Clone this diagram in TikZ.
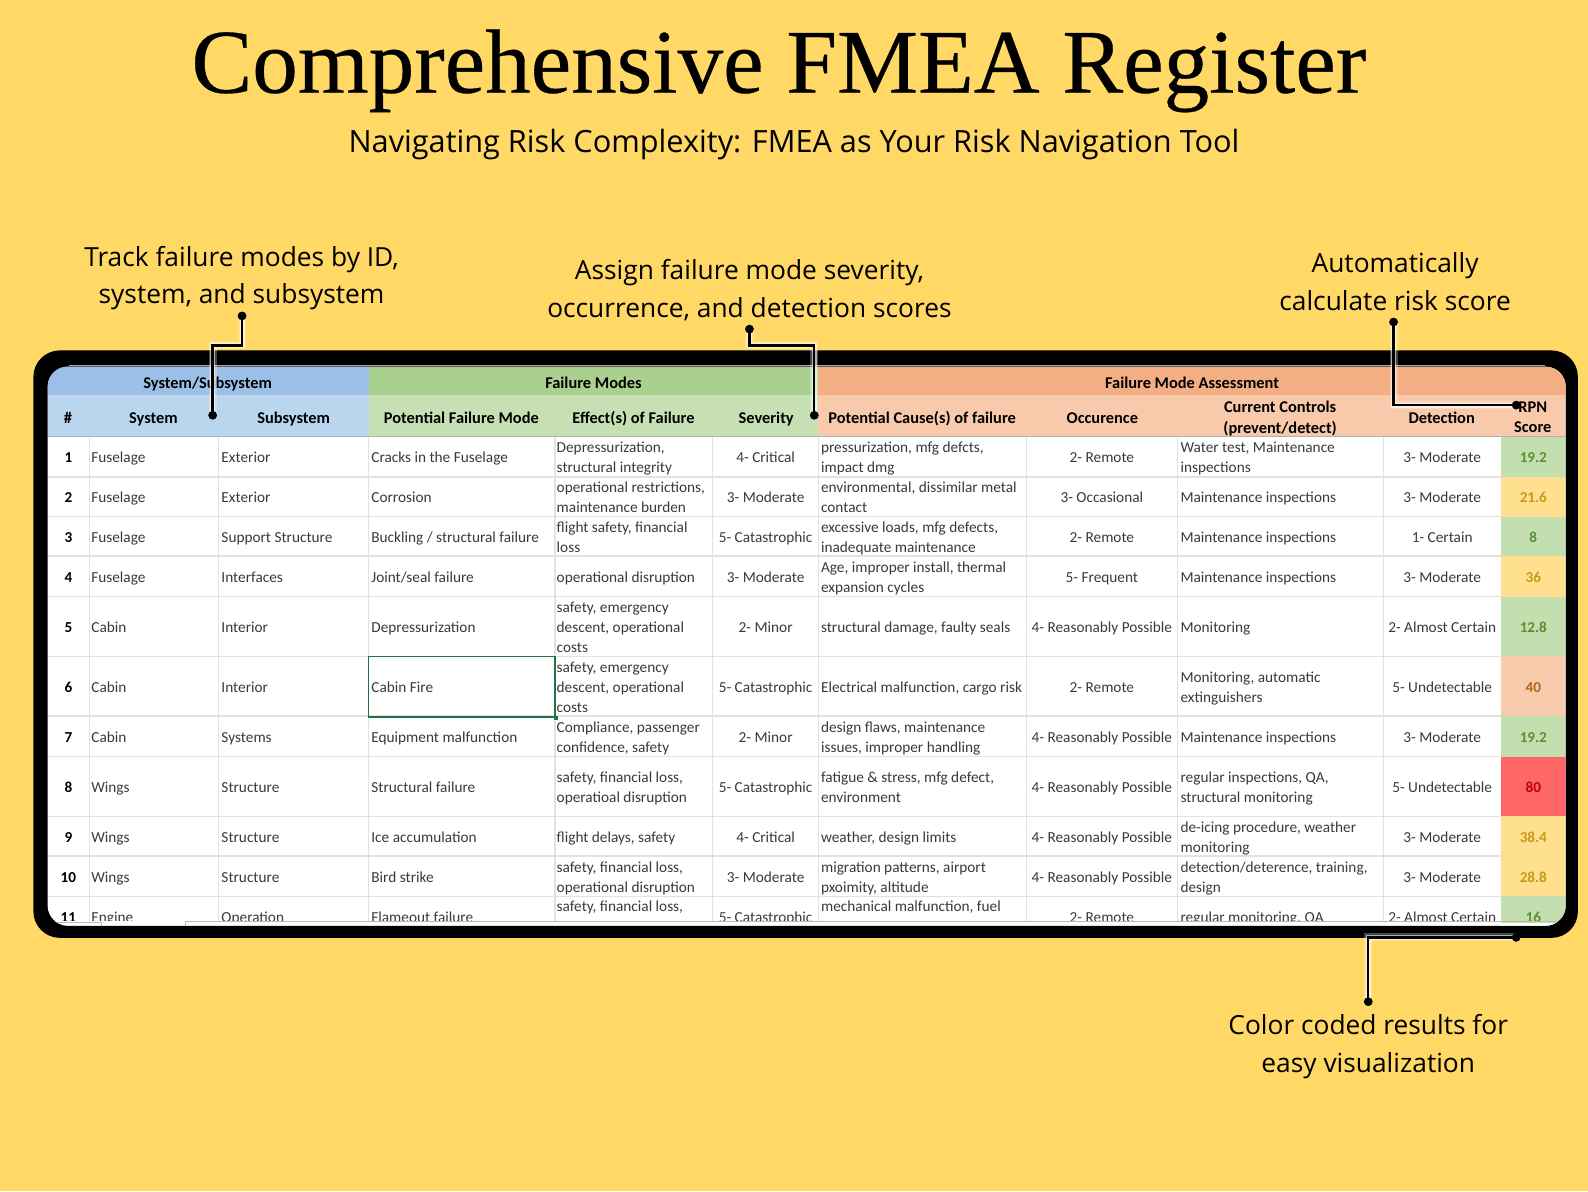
\documentclass[tikz,border=0pt]{standalone}
\usepackage{fontspec}
\setmainfont{Carlito}
\newfontfamily\titlefont[FakeBold=0.35]{Liberation Serif}
\newfontfamily\callfont[WordSpace=0.6]{Open Sans}
\newfontfamily\subfont{Open Sans}
\definecolor{bgc}{HTML}{FFD866}
\definecolor{gblue}{HTML}{9BBFE6}
\definecolor{sblue}{HTML}{BAD5EE}
\definecolor{ggreen}{HTML}{A9D08E}
\definecolor{sgreen}{HTML}{C6E0B4}
\definecolor{gorange}{HTML}{F4AE84}
\definecolor{sorange}{HTML}{F8C9AB}
\definecolor{rowline}{HTML}{E2E2E2}
\definecolor{bodytxt}{HTML}{3A3A3A}
\definecolor{rg}{HTML}{C3DFB0}
\definecolor{ry}{HTML}{FFE08F}
\definecolor{ro}{HTML}{F8CBAD}
\definecolor{rr}{HTML}{FF6666}
\definecolor{tg}{HTML}{5C8F32}
\definecolor{ty}{HTML}{C79A1A}
\definecolor{to}{HTML}{B5651D}
\definecolor{tr}{HTML}{C00000}
\definecolor{selc}{HTML}{217346}
\tikzset{
  x=1pt,y=-1pt,
  bodycell/.style={inner sep=0pt,text=bodytxt,yshift=-1.5pt,font=\fontsize{15.1}{19.7}\selectfont},
  leftcell/.style={bodycell,anchor=west,align=left},
  midcell/.style={bodycell,anchor=center,align=center},
  headcell/.style={inner sep=0pt,text=black,anchor=center,align=center,font=\bfseries\fontsize{16.2}{20}\selectfont,
    execute at begin node=\strut,execute at end node=\strut},
  numcell/.style={midcell,text=black,font=\bfseries\fontsize{15}{19.7}\selectfont},
  rpncell/.style={midcell,font=\bfseries\fontsize{15}{19.7}\selectfont},
  callout/.style={inner sep=0pt,align=center,anchor=center,text=black,font=\callfont\fontsize{26}{37}\selectfont},
  dotmark/.style={circle,fill=black,inner sep=0pt,minimum size=8.5pt},
  leader/.style={draw=black,line width=2.4pt,
    preaction={draw=white,line width=8pt,opacity=.28},
    preaction={draw=white,line width=5pt,opacity=.55}},
  grid/.style={draw=rowline,line width=1.4pt},
}
\newcount\cellno
\def\ry{0}
\newcommand\cellL[3][leftcell]{\global\advance\cellno by 1 \node[#1,name=cell\the\cellno] at (#2,\ry) {\strut #3\strut};}
\newcommand\cellC[3][midcell]{\global\advance\cellno by 1 \node[#1,name=cell\the\cellno] at (#2,\ry) {\strut #3\strut};}
\newcommand\rp[2]{\global\advance\cellno by 1 \node[rpncell,text=#1,name=cell\the\cellno] at (1514,\ry) {\strut #2\strut};}
\def\colA{90}\def\colB{218.5}\def\colC{366.5}\def\colD{549.5}\def\colE{756}\def\colF{810.5}\def\colG{1088}\def\colH{1165.5}\def\colI{1424}
\begin{document}
\begin{tikzpicture}
\useasboundingbox (0,0) rectangle (1568,1176);
\fill[bgc] (0,0) rectangle (1568,1176);
% title
\node[inner sep=0pt,text=black,font=\titlefont\fontsize{90}{90}\selectfont] (title) at (769,70) {Comprehensive FMEA Register};
\node[inner sep=0pt,text=black,font=\subfont\fontsize{30.3}{34}\selectfont] (subtitle) at (784,142.5) {Navigating Risk Complexity: FMEA as Your Risk Navigation Tool};
% callouts
\node[callout] (call1) at (238.5,274.5) {Track failure modes by ID,\\system, and subsystem};
\node[callout] (call2) at (740,286.5) {Assign failure mode severity,\\occurrence, and detection scores};
\node[callout] (call3) at (1377.5,278) {Automatically\\calculate risk score};
\node[callout] (call4) at (1351,1033.5) {Color coded results for\\easy visualization};
% frame
\fill[black,rounded corners=26pt] (33,346) rectangle (1558,926);
\fill[white,rounded corners=20pt] (47,362) rectangle (1546,914);
\draw[gray!70,line width=1pt] (68,360.5) -- (1526,360.5);
\begin{scope}
\clip[rounded corners=20pt] (47,362) rectangle (1546,914);
\fill[gblue] (47,362) rectangle (364,390);
\fill[ggreen] (364,362) rectangle (808,390);
\fill[gorange] (808,362) rectangle (1546,390);
\fill[sblue] (47,390) rectangle (364,431);
\fill[sgreen] (364,390) rectangle (808,431);
\fill[sorange] (808,390) rectangle (1546,431);
% RPN fills
\fill[rg] (1482,431) rectangle (1546,471);
\fill[ry] (1482,471) rectangle (1546,510);
\fill[rg] (1482,510) rectangle (1546,549);
\fill[ry] (1482,549) rectangle (1546,589);
\fill[rg] (1482,589) rectangle (1546,648);
\fill[ro] (1482,648) rectangle (1546,707);
\fill[rg] (1482,707) rectangle (1546,747);
\fill[rr] (1482,747) rectangle (1546,806);
\fill[ry] (1482,806) rectangle (1546,845);
\fill[ry] (1482,845) rectangle (1546,885);
\fill[rg] (1482,885) rectangle (1546,914);
% grid
\foreach \gy in {471,510,549,589,648,707,747,806,845,885}{\draw[grid] (47,\gy) -- (1482,\gy);}
\foreach \gx in {88,216,364,548,704,808,1014,1163,1366}{\draw[grid,line width=1pt] (\gx,431) -- (\gx,914);}
\draw[gray!60,line width=1.2pt] (47,431) -- (1546,431);
% headers
\node[headcell] (g1) at (205,379.5) {System/Subsystem};
\node[headcell] (g2) at (586,379.5) {Failure Modes};
\node[headcell] (g3) at (1177,379.5) {Failure Mode Assessment};
\node[headcell] (h1) at (67,414) {\#};
\node[headcell] (h2) at (151.5,414) {System};
\node[headcell] (h3) at (290,414) {Subsystem};
\node[headcell] (h4) at (455.5,414) {Potential Failure Mode};
\node[headcell] (h5) at (625.5,414) {Effect(s) of Failure};
\node[headcell] (h6) at (756.5,414) {Severity};
\node[headcell] (h7) at (910.5,414) {Potential Cause(s) of failure};
\node[headcell] (h8) at (1088.5,414) {Occurence};
\node[headcell] (h9) at (1264,415) {Current Controls\\(prevent/detect)};
\node[headcell] (h10) at (1423.5,414) {Detection};
\node[headcell] (h11) at (1513.5,415) {RPN\\Score};
% rows
\def\ry{451}
\cellC[numcell]{67.5}{1}\cellL{\colA}{Fuselage}\cellL{\colB}{Exterior}\cellL{\colC}{Cracks in the Fuselage}\cellL{\colD}{Depressurization,\\structural integrity}\cellC{\colE}{4- Critical}\cellL{\colF}{pressurization, mfg defcts,\\impact dmg}\cellC{\colG}{2- Remote}\cellL{\colH}{Water test, Maintenance\\inspections}\cellC{\colI}{3- Moderate}\rp{tg}{19.2}
\def\ry{491}
\cellC[numcell]{67.5}{2}\cellL{\colA}{Fuselage}\cellL{\colB}{Exterior}\cellL{\colC}{Corrosion}\cellL{\colD}{operational restrictions,\\maintenance burden}\cellC{\colE}{3- Moderate}\cellL{\colF}{environmental, dissimilar metal\\contact}\cellC{\colG}{3- Occasional}\cellL{\colH}{Maintenance inspections}\cellC{\colI}{3- Moderate}\rp{ty}{21.6}
\def\ry{530}
\cellC[numcell]{67.5}{3}\cellL{\colA}{Fuselage}\cellL{\colB}{Support Structure}\cellL{\colC}{Buckling / structural failure}\cellL{\colD}{flight safety, financial\\loss}\cellC{\colE}{5- Catastrophic}\cellL{\colF}{excessive loads, mfg defects,\\inadequate maintenance}\cellC{\colG}{2- Remote}\cellL{\colH}{Maintenance inspections}\cellC{\colI}{1- Certain}\rp{tg}{8}
\def\ry{570}
\cellC[numcell]{67.5}{4}\cellL{\colA}{Fuselage}\cellL{\colB}{Interfaces}\cellL{\colC}{Joint/seal failure}\cellL{\colD}{operational disruption}\cellC{\colE}{3- Moderate}\cellL{\colF}{Age, improper install, thermal\\expansion cycles}\cellC{\colG}{5- Frequent}\cellL{\colH}{Maintenance inspections}\cellC{\colI}{3- Moderate}\rp{ty}{36}
\def\ry{619}
\cellC[numcell]{67.5}{5}\cellL{\colA}{Cabin}\cellL{\colB}{Interior}\cellL{\colC}{Depressurization}\cellL{\colD}{safety, emergency\\descent, operational\\costs}\cellC{\colE}{2- Minor}\cellL{\colF}{structural damage, faulty seals}\cellC{\colG}{4- Reasonably Possible}\cellL{\colH}{Monitoring}\cellC{\colI}{2- Almost Certain}\rp{tg}{12.8}
\def\ry{678}
\cellC[numcell]{67.5}{6}\cellL{\colA}{Cabin}\cellL{\colB}{Interior}\cellL{\colC}{Cabin Fire}\cellL{\colD}{safety, emergency\\descent, operational\\costs}\cellC{\colE}{5- Catastrophic}\cellL{\colF}{Electrical malfunction, cargo risk}\cellC{\colG}{2- Remote}\cellL{\colH}{Monitoring, automatic\\extinguishers}\cellC{\colI}{5- Undetectable}\rp{to}{40}
\def\ry{728}
\cellC[numcell]{67.5}{7}\cellL{\colA}{Cabin}\cellL{\colB}{Systems}\cellL{\colC}{Equipment malfunction}\cellL{\colD}{Compliance, passenger\\confidence, safety}\cellC{\colE}{2- Minor}\cellL{\colF}{design flaws, maintenance\\issues, improper handling}\cellC{\colG}{4- Reasonably Possible}\cellL{\colH}{Maintenance inspections}\cellC{\colI}{3- Moderate}\rp{tg}{19.2}
\def\ry{777}
\cellC[numcell]{67.5}{8}\cellL{\colA}{Wings}\cellL{\colB}{Structure}\cellL{\colC}{Structural failure}\cellL{\colD}{safety, financial loss,\\operatioal disruption}\cellC{\colE}{5- Catastrophic}\cellL{\colF}{fatigue \& stress, mfg defect,\\environment}\cellC{\colG}{4- Reasonably Possible}\cellL{\colH}{regular inspections, QA,\\structural monitoring}\cellC{\colI}{5- Undetectable}\rp{tr}{80}
\def\ry{826}
\cellC[numcell]{67.5}{9}\cellL{\colA}{Wings}\cellL{\colB}{Structure}\cellL{\colC}{Ice accumulation}\cellL{\colD}{flight delays, safety}\cellC{\colE}{4- Critical}\cellL{\colF}{weather, design limits}\cellC{\colG}{4- Reasonably Possible}\cellL{\colH}{de-icing procedure, weather\\monitoring}\cellC{\colI}{3- Moderate}\rp{ty}{38.4}
\def\ry{866}
\cellC[numcell]{67.5}{10}\cellL{\colA}{Wings}\cellL{\colB}{Structure}\cellL{\colC}{Bird strike}\cellL{\colD}{safety, financial loss,\\operational disruption}\cellC{\colE}{3- Moderate}\cellL{\colF}{migration patterns, airport\\pxoimity, altitude}\cellC{\colG}{4- Reasonably Possible}\cellL{\colH}{detection/deterence, training,\\design}\cellC{\colI}{3- Moderate}\rp{ty}{28.8}
\def\ry{905}
\cellC[numcell]{67.5}{11}\cellL{\colA}{Engine}\cellL{\colB}{Operation}\cellL{\colC}{Flameout failure}\cellC{\colE}{5- Catastrophic}\cellC{\colG}{2- Remote}\cellL{\colH}{regular monitoring, QA}\cellC{\colI}{2- Almost Certain}\rp{tg}{16}
\def\ry{895}
\cellL{\colD}{safety, financial loss,}\cellL{\colF}{mechanical malfunction, fuel}
% bottom strip hiding the cut row
\fill[white] (47,909.5) rectangle (1482,914);
\fill[rg] (1482,909.5) rectangle (1546,914);
\fill[white] (1482,911) rectangle (1546,914);
\draw[gray!55,line width=1.1pt] (47,910.5) -- (100,910.5) -- (100,914);
\draw[gray!55,line width=1.1pt] (183,914) -- (183,909.5) -- (1546,909.5);
\end{scope}
% selected cell
\node[draw=selc,line width=1.5pt,inner sep=0pt,minimum width=184pt,minimum height=60pt] (sel) at (456,678) {};
\node[fill=selc,inner sep=0pt,minimum size=4pt] (selh) at (sel.south east) {};
% leaders
\node[dotmark] (d1a) at (239,312) {};
\node[dotmark] (d1b) at (210,410) {};
\coordinate (b1a) at (239,341); \coordinate (b1b) at (210,341);
\draw[leader] (d1a.center) -- (b1a) -- (b1b) -- (d1b.center);
\node[dotmark] (d2a) at (740,325) {};
\node[dotmark] (d2b) at (804,410) {};
\coordinate (b2a) at (740,341); \coordinate (b2b) at (804,341);
\draw[leader] (d2a.center) -- (b2a) -- (b2b) -- (d2b.center);
\node[dotmark] (d3a) at (1376,318) {};
\node[dotmark] (d3b) at (1497,400) {};
\coordinate (b3) at (1376,400);
\draw[leader] (d3a.center) -- (b3) -- (d3b.center);
\node[dotmark] (d4a) at (1497,925.5) {};
\node[dotmark] (d4b) at (1351,989) {};
\coordinate (b4) at (1351,925.5);
\draw[leader] (d4a.center) -- (b4) -- (d4b.center);
\foreach \d in {d1a,d1b,d2a,d2b,d3a,d3b,d4a,d4b}{\fill[black] (\d) circle (4.2pt);}
\end{tikzpicture}
\end{document}
